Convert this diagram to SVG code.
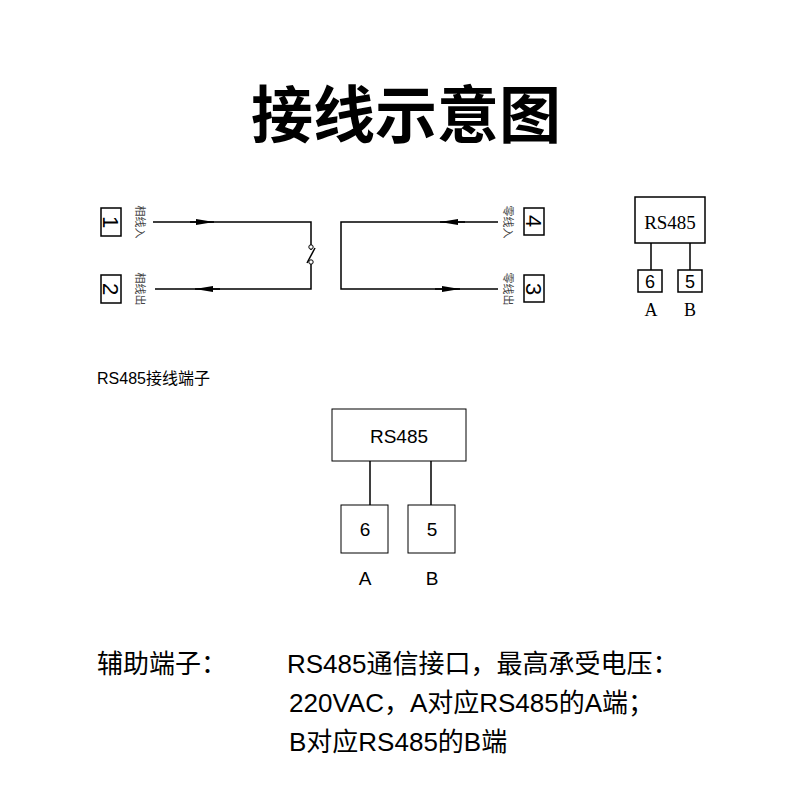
<svg xmlns="http://www.w3.org/2000/svg" width="800" height="800" viewBox="0 0 800 800">
<style>
.s{font-family:"Liberation Sans","Noto Sans CJK SC",sans-serif;fill:#000}
.sf{font-family:"Liberation Serif","Noto Sans CJK SC",serif;fill:#000}
.b{fill:#fff;stroke:#000;stroke-width:1.5}
.w{fill:none;stroke:#000;stroke-width:1.5}
.t{fill:#fff;stroke:#000;stroke-width:1}
</style>
<defs><marker id="ar" viewBox="0 0 18 6" refX="18" refY="3" markerWidth="18" markerHeight="6" markerUnits="userSpaceOnUse" orient="auto"><path d="M0 0L18 3L0 6Z"/></marker></defs>
<rect width="800" height="800" fill="#fff"/>
<text class="s" x="406" y="138" font-size="62" font-weight="bold" text-anchor="middle">接线示意图</text>
<g id="connectors">
<path class="w" d="M153 222H311V250M311 261V289H155"/>
<path class="w" d="M307 263L315 248"/>
<circle cx="311" cy="247" r="2.2" class="t"/><circle cx="311" cy="262" r="2.2" class="t"/>
<path class="w" d="M498 222H341V289H498"/>
<line x1="190" y1="222" x2="214" y2="222" class="w" marker-end="url(#ar)"/>
<line x1="220" y1="289" x2="195" y2="289" class="w" marker-end="url(#ar)"/>
<line x1="465" y1="222" x2="440" y2="222" class="w" marker-end="url(#ar)"/>
<line x1="435" y1="289" x2="460" y2="289" class="w" marker-end="url(#ar)"/>
<path class="w" d="M651 243V270M690 243V270M370 461V505M431 461V505" stroke-width="1"/>
</g>
<g id="t1"><rect class="b" x="101" y="208" width="20" height="28"/><text class="s" font-size="22" transform="translate(111 222) rotate(90)" text-anchor="middle" dy="8">1</text></g>
<g id="t2"><rect class="b" x="101" y="275" width="20" height="28"/><text class="s" font-size="22" transform="translate(111 289) rotate(90)" text-anchor="middle" dy="8">2</text></g>
<g id="t4"><rect class="b" x="524" y="208" width="20" height="27"/><text class="s" font-size="22" transform="translate(534 221) rotate(90)" text-anchor="middle" dy="8">4</text></g>
<g id="t3"><rect class="b" x="524" y="275" width="20" height="27"/><text class="s" font-size="22" transform="translate(534 289) rotate(90)" text-anchor="middle" dy="8">3</text></g>
<g class="s" font-size="11">
<text transform="translate(140 222) rotate(90)" text-anchor="middle" dy="4" fill="#444">相线入</text>
<text transform="translate(140 289) rotate(90)" text-anchor="middle" dy="4" fill="#444">相线出</text>
<text transform="translate(508 222) rotate(90)" text-anchor="middle" dy="4" fill="#444">零线入</text>
<text transform="translate(508 289) rotate(90)" text-anchor="middle" dy="4" fill="#444">零线出</text>
</g>
<g id="rs485small"><rect class="b" x="635" y="197" width="70" height="46"/><text class="sf" x="670" y="229" font-size="19" text-anchor="middle">RS485</text></g>
<g id="s6"><rect class="b" x="638" y="270" width="24" height="22"/><text class="s" x="650" y="288" font-size="18" text-anchor="middle">6</text></g>
<g id="s5"><rect class="b" x="678" y="270" width="24" height="22"/><text class="s" x="690" y="288" font-size="18" text-anchor="middle">5</text></g>
<text class="sf" x="651" y="316" font-size="18" text-anchor="middle">A</text>
<text class="sf" x="690" y="316" font-size="18" text-anchor="middle">B</text>
<text class="s" x="97" y="384" font-size="16">RS485接线端子</text>
<g id="rs485"><rect class="t" x="332" y="409" width="134" height="52"/><text class="s" x="399" y="443" font-size="19" text-anchor="middle">RS485</text></g>
<g id="n6"><rect class="t" x="341" y="505" width="47" height="48"/><text class="s" x="365" y="536" font-size="19" text-anchor="middle">6</text></g>
<g id="n5"><rect class="t" x="408" y="505" width="47" height="48"/><text class="s" x="432" y="536" font-size="19" text-anchor="middle">5</text></g>
<text class="s" x="365" y="585" font-size="19" text-anchor="middle">A</text>
<text class="s" x="432" y="585" font-size="19" text-anchor="middle">B</text>
<g class="s" font-size="26">
<text x="97" y="673">辅助端子：</text>
<text x="287" y="673">RS485通信接口，最高承受电压：</text>
<text x="289" y="712">220VAC，A对应RS485的A端；</text>
<text x="289" y="751">B对应RS485的B端</text>
</g>
</svg>
